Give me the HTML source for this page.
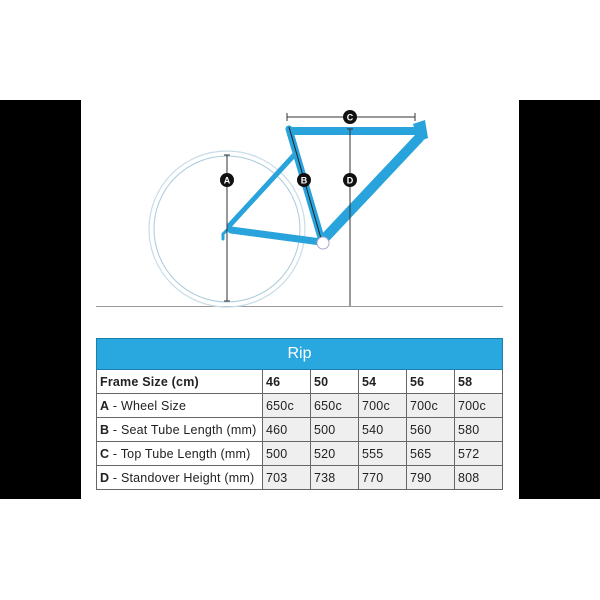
<!DOCTYPE html>
<html><head><style>
body{margin:0;width:600px;height:600px;background:#fff;position:relative;overflow:hidden;font-family:"Liberation Sans",sans-serif}
.bar{position:absolute;background:#000}
table{position:absolute;left:96px;top:338px;width:407px;border-collapse:collapse;font-size:12.5px;color:#222}
td{border:1px solid #666;height:23px;padding:0 0 0 3px;background:#efefef;letter-spacing:0.2px}
td:first-child{background:#fff;width:162px}
th{background:#29a8e0;color:#fff;font-weight:normal;font-size:16px;height:30px;border:1px solid #1d7fae;padding:0}
.b{font-weight:bold}
</style></head><body>
<div class="bar" style="left:0;top:100px;width:81px;height:399px"></div>
<div class="bar" style="left:519px;top:100px;width:81px;height:399px"></div>
<svg width="600" height="600" style="position:absolute;left:0;top:0">
<line x1="96" y1="306.5" x2="503" y2="306.5" stroke="#999" stroke-width="1"/>
<circle cx="227" cy="229" r="78" fill="none" stroke="#c8dce6" stroke-width="1.2"/>
<circle cx="227" cy="229" r="73" fill="none" stroke="#a9cbdb" stroke-width="1"/>
<g stroke="#29a3dc" stroke-linecap="round" fill="none">
<line x1="231" y1="230" x2="321" y2="242" stroke-width="7"/>
<line x1="296" y1="153" x2="229" y2="226" stroke-width="5"/>
<line x1="289" y1="129" x2="322" y2="241" stroke-width="7"/>
<line x1="290" y1="131" x2="418" y2="131" stroke-width="8" stroke-linecap="butt"/>
<line x1="419" y1="138" x2="323" y2="240" stroke-width="10"/>
<path d="M229 228 L223 234 L223 239" stroke-width="3"/>
</g>
<polygon points="413,124 425,120 428,138 418,142" fill="#29a3dc"/>
<line x1="289" y1="127" x2="322" y2="242" stroke="#222" stroke-width="1"/>
<circle cx="323" cy="243" r="6" fill="#fff" stroke="#aac" stroke-width="1"/>
<g stroke="#333" stroke-width="1">
<line x1="287" y1="117" x2="415" y2="117"/><line x1="287" y1="113" x2="287" y2="121"/><line x1="415" y1="113" x2="415" y2="121"/>
<line x1="227" y1="155" x2="227" y2="301"/><line x1="224" y1="155" x2="230" y2="155"/><line x1="224" y1="301" x2="230" y2="301"/>
<line x1="350" y1="129" x2="350" y2="306"/><line x1="347" y1="129" x2="353" y2="129"/>
</g>
<g font-family="Liberation Sans" font-size="9" font-weight="bold" fill="#fff" text-anchor="middle">
<circle cx="350" cy="117" r="7" fill="#111"/><text x="350" y="120.5">C</text>
<circle cx="227" cy="180" r="7" fill="#111"/><text x="227" y="183.5">A</text>
<circle cx="304" cy="180" r="7" fill="#111"/><text x="304" y="183.5">B</text>
<circle cx="350" cy="180" r="7" fill="#111"/><text x="350" y="183.5">D</text>
</g>
</svg>
<table>
<tr><th colspan="6">Rip</th></tr>
<tr><td class="b" style="background:#fff">Frame Size (cm)</td><td class="b" style="background:#fff">46</td><td class="b" style="background:#fff">50</td><td class="b" style="background:#fff">54</td><td class="b" style="background:#fff">56</td><td class="b" style="background:#fff">58</td></tr>
<tr><td><b>A</b> - Wheel Size</td><td>650c</td><td>650c</td><td>700c</td><td>700c</td><td>700c</td></tr>
<tr><td><b>B</b> - Seat Tube Length (mm)</td><td>460</td><td>500</td><td>540</td><td>560</td><td>580</td></tr>
<tr><td><b>C</b> - Top Tube Length (mm)</td><td>500</td><td>520</td><td>555</td><td>565</td><td>572</td></tr>
<tr><td><b>D</b> - Standover Height (mm)</td><td>703</td><td>738</td><td>770</td><td>790</td><td>808</td></tr>
</table>
</body></html>
